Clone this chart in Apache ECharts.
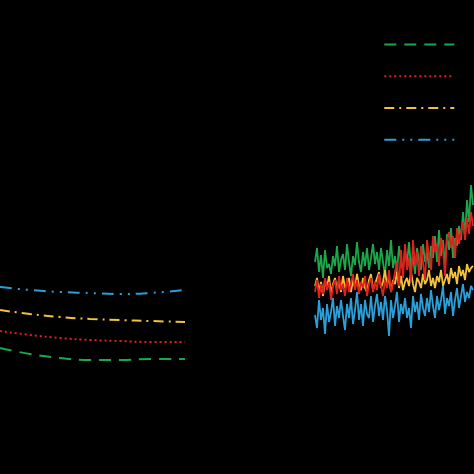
<!DOCTYPE html>
<html><head><meta charset="utf-8">
<script src="https://cdn.jsdelivr.net/npm/echarts@6/dist/echarts.min.js"></script>
<style>html,body{margin:0;background:#000}#c{width:474px;height:474px}</style>
</head><body><div id="c"></div>
<script>
var names=['A','B','C','D'];
var colors=['#1aa84a','#e0201c','#f2c23a','#2a9fd8'];
var leftX=[0,30,60,90,120,150,185];
var leftG=[348,354,358,360,360,359,359];
var leftR=[331,335,338,340,341,342,342];
var leftY=[310,314,317,319,320,321,322];
var leftB=[287,290,292,293,294,293,290];
var rightX0=315, rightStep=2;
var rightG=[262,248,272,255,278,250,268,264,274,256,266,246,272,260,254,270,244,262,276,256,265,242,262,272,252,266,248,270,258,244,264,252,270,248,262,276,250,266,240,268,256,272,246,262,270,250,264,242,268,256,274,248,260,270,244,262,252,268,246,258,236,262,230,256,240,266,234,250,228,258,238,246,226,240,212,236,200,222,185,205];
var rightR=[292,280,298,284,294,278,290,282,300,286,280,294,276,290,284,296,278,292,284,274,290,280,294,282,288,276,296,284,278,292,282,290,274,286,296,280,288,270,292,284,272,262,286,250,278,244,270,258,282,240,266,252,276,246,262,280,240,256,270,236,252,244,266,238,250,276,240,232,248,236,258,228,244,232,222,240,218,234,212,226];
var rightY=[286,278,292,282,296,280,288,276,294,284,278,290,280,292,276,288,284,278,292,280,288,274,286,290,278,288,292,280,274,290,284,278,272,288,282,270,286,276,292,280,284,272,288,276,290,282,278,286,272,284,292,278,282,288,274,284,280,270,286,278,288,276,282,270,286,280,274,284,268,278,272,284,266,276,270,280,264,272,268,266];
var rightB=[315,328,300,320,308,334,304,322,312,298,326,306,318,300,316,330,304,318,298,324,310,292,320,304,326,300,314,318,296,322,306,294,316,302,320,296,310,336,300,318,306,292,322,304,314,298,318,308,328,296,312,302,320,294,308,316,298,312,290,306,318,296,310,300,286,314,298,306,292,316,300,288,308,296,284,302,292,298,286,290];
function pairs(xs,ys){return ys.map(function(v,i){return [xs[i],v];});}
function rpairs(ys){return ys.map(function(v,i){return [rightX0+rightStep*i,v];});}
var styles=[[12,8],[2,3],[10,5,2,5],[12,6,2,6,2,6]];
var L=[leftG,leftR,leftY,leftB], R=[rightG,rightR,rightY,rightB];
var series=[];
for(var k=0;k<4;k++){
  series.push({name:names[k],type:'line',smooth:true,symbol:'none',data:pairs(leftX,L[k]),
    lineStyle:{color:colors[k],width:2,type:styles[k]},itemStyle:{color:colors[k]}});
}
var zs=[6,8,7,5];
for(var k=0;k<4;k++){
  series.push({name:names[k],type:'line',symbol:'none',data:rpairs(R[k]),z:zs[k],
    lineStyle:{color:colors[k],width:1.8},itemStyle:{color:colors[k]}});
}
var ch=echarts.init(document.getElementById('c'));
ch.setOption({backgroundColor:'#000',animation:false,
 grid:{left:0,right:0,top:0,bottom:0},
 xAxis:{type:'value',min:0,max:474,show:false},
 yAxis:{type:'value',min:0,max:474,inverse:true,show:false},
 legend:{orient:'vertical',right:9,top:34,itemWidth:70,itemHeight:14,itemGap:20.5,
   itemStyle:{opacity:0},textStyle:{color:'#000',fontSize:1},data:names},
 series:series});
</script></body></html>
